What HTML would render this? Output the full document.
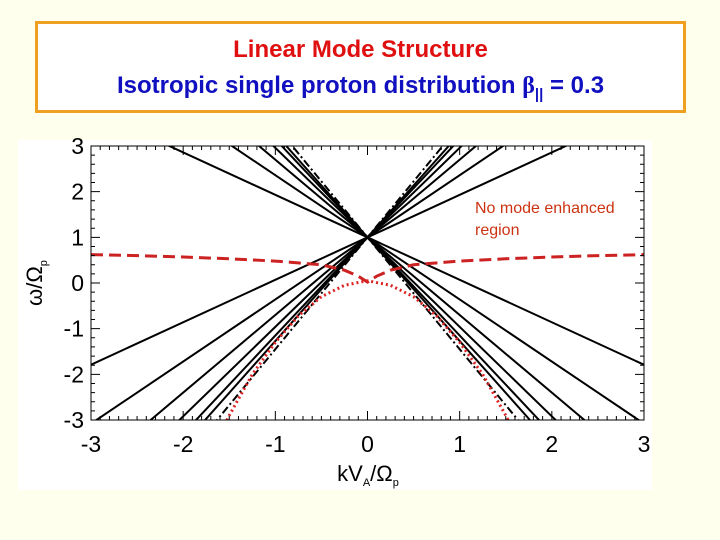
<!DOCTYPE html>
<html style="overflow:hidden;width:720px;height:540px"><head><meta charset="utf-8">
<style>
html,body{margin:0;padding:0;overflow:hidden}
body{width:720px;height:540px;background:#FFFFEE;position:relative;font-family:"Liberation Sans",sans-serif}
#title-box{position:absolute;left:35px;top:21px;width:645px;height:86px;border:3px solid #F0A020;background:#fff;text-align:center;font-weight:bold;font-size:24px;overflow:hidden}
#chart-bg{position:absolute;left:18px;top:140px;width:634px;height:350px;background:#fff}
svg{position:absolute;left:0;top:0;display:block;overflow:hidden}
</style></head><body>
<div id="title-box">
<div style="color:#E01010;margin-top:12px;line-height:28px">Linear Mode Structure</div>
<div style="color:#1010C0;line-height:28px;margin-top:8px">Isotropic single proton distribution <span style="font-family:'Liberation Serif',serif">β</span><span style="font-size:15px;position:relative;top:6px">||</span> = 0.3</div>
</div>
<div id="chart-bg"></div>
<svg id="chart" width="720" height="500"></svg>
<script>
const slopes=[0.93,1.36,1.7,1.96,2.15,2.27];
const dashDotSlope=[2.45];
const dashedK=[0,0.1,0.25,0.5,1,1.5,2,2.5,3];
const dashedW=[0.02,0.15,0.28,0.4,0.48,0.53,0.57,0.6,0.62];
const dottedK=[0,0.25,0.5,0.75,1,1.25,1.5,1.6];
const dottedW=[0.05,-0.05,-0.3,-0.72,-1.3,-2.0,-2.9,-3.3];
const xTicks=[-3,-2,-1,0,1,2,3];
const yTicks=[-3,-2,-1,0,1,2,3];
const L=91,R=644,T=146,B=420;
const sx=k=>L+(k+3)/6*(R-L), sy=w=>B-(w+3)/6*(B-T);
const svg=document.getElementById('chart');const NS='http://www.w3.org/2000/svg';
function mk(t,a){const e=document.createElementNS(NS,t);for(const k in a)e.setAttribute(k,a[k]);svg.appendChild(e);return e;}
const defs=mk('clipPath',{id:'cp'});const cr=document.createElementNS(NS,'rect');
cr.setAttribute('x',L);cr.setAttribute('y',T);cr.setAttribute('width',R-L);cr.setAttribute('height',B-T);defs.appendChild(cr);
function line(k1,w1,k2,w2,st,name){const e=mk('line',Object.assign({x1:sx(k1),y1:sy(w1),x2:sx(k2),y2:sy(w2),'clip-path':'url(#cp)'},st));

}
slopes.forEach((s,i)=>{line(-4,1-4*s,4,1+4*s,{stroke:'#000','stroke-width':2},'mode-line-up-'+i);line(-4,1+4*s,4,1-4*s,{stroke:'#000','stroke-width':2},'mode-line-down-'+i);});
dashDotSlope.forEach((s,i)=>{const st={stroke:'#000','stroke-width':2,'stroke-dasharray':'8 3 2 3'};line(-4,1-4*s,4,1+4*s,st,'dashdot-line-up');line(-4,1+4*s,4,1-4*s,st,'dashdot-line-down');});
function curve(K,W,st,name){let pts=[];for(let i=K.length-1;i>=0;i--)pts.push(sx(-K[i])+','+sy(W[i]));for(let i=1;i<K.length;i++)pts.push(sx(K[i])+','+sy(W[i]));
const e=mk('polyline',Object.assign({points:pts.join(' '),fill:'none','clip-path':'url(#cp)'},st));

}
curve(dashedK,dashedW,{stroke:'#CC2222','stroke-width':3,'stroke-dasharray':'12 6'},'red-dashed-curve');
curve(dottedK,dottedW,{stroke:'#DD2222','stroke-width':3,'stroke-dasharray':'2 3'},'red-dotted-curve');
const fr=mk('rect',{x:L,y:T,width:R-L,height:B-T,fill:'none',stroke:'#000','stroke-width':1});


let tp='';
for(let v=-30;v<=30;v++){const x=sx(v/10),h=v%10==0?9:4;tp+=`M${x},${B}v${-h}M${x},${T}v${h}`;}
for(let v=-15;v<=15;v++){const y=sy(v/5),h=v%5==0?9:4;tp+=`M${L},${y}h${h}M${R},${y}h${-h}`;}
const tk=mk('path',{d:tp,stroke:'#000','stroke-width':1,fill:'none'});


xTicks.forEach(v=>{const t=mk('text',{x:sx(v),y:452,'text-anchor':'middle','font-size':23,fill:'#000'});t.textContent=v;

});
yTicks.forEach(v=>{const t=mk('text',{x:84,y:sy(v)+8,'text-anchor':'end','font-size':23,fill:'#000'});t.textContent=v;

});
const xt=mk('text',{x:368,y:481,'text-anchor':'middle','font-size':22});xt.innerHTML='kV<tspan font-size="11" dy="5">A</tspan><tspan dy="-5">/Ω</tspan><tspan font-size="11" dy="5">p</tspan>';


const yt=mk('text',{x:0,y:0,'text-anchor':'middle','font-size':22,transform:'translate(42,283) rotate(-90)'});yt.innerHTML='ω/Ω<tspan font-size="11" dy="5">p</tspan>';


['No mode enhanced','region'].forEach((s,i)=>{const t=mk('text',{x:475,y:213+i*22,'font-size':16,fill:'#CC3311'});t.textContent=s;

});
</script>
</body></html>
